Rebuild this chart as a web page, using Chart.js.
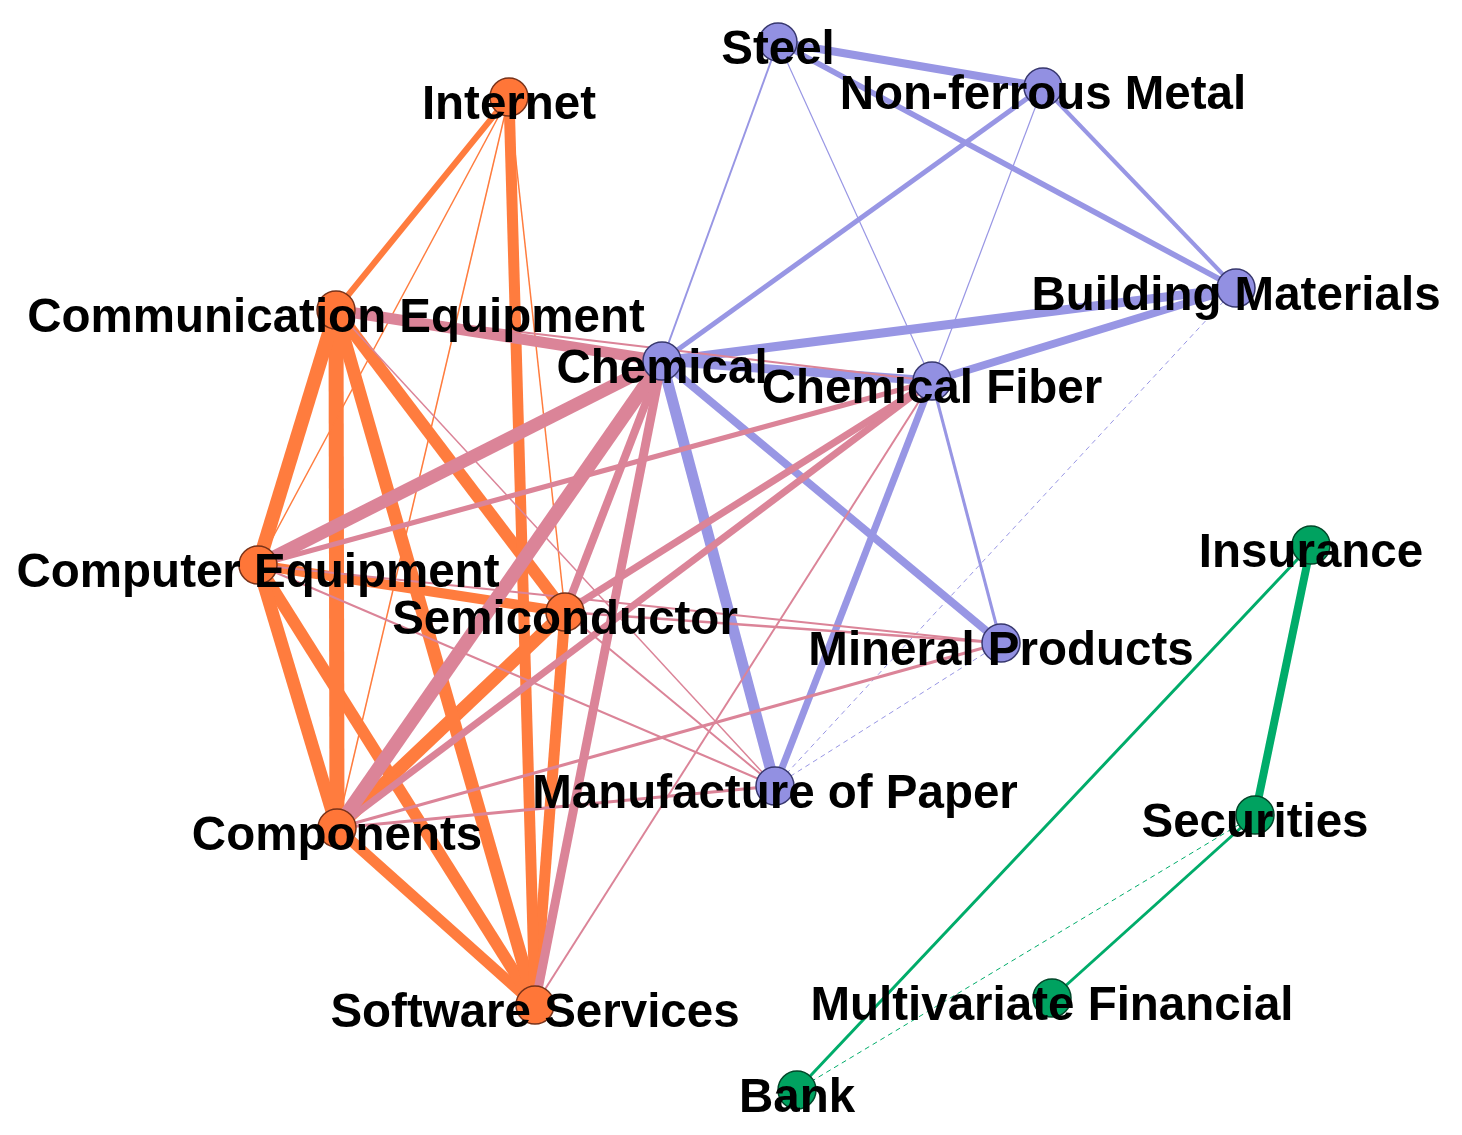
<!DOCTYPE html>
<html>
<head>
<meta charset="utf-8">
<script src="https://cdn.jsdelivr.net/npm/chart.js@4.4.1/dist/chart.umd.min.js"></script>
<style>
  html, body { margin: 0; padding: 0; background: #fff; }
  #net { display: block; }
</style>
</head>
<body>
<canvas id="net" width="1462" height="1135"></canvas>
<script>
// nodes (layout coordinates)
const nodeNames = ['Steel', 'Non-ferrous Metal', 'Internet', 'Building Materials', 'Communication Equipment',
    'Chemical', 'Chemical Fiber', 'Insurance', 'Computer Equipment', 'Semiconductor', 'Mineral Products',
    'Manufacture of Paper', 'Securities', 'Components', 'Multivariate Financial', 'Software Services', 'Bank'];
const nodeX = [778, 1043, 509, 1236, 336, 662, 932, 1311, 258, 565, 1001, 775, 1255, 337, 1052, 535, 797];
const nodeY = [42, 87, 97, 288, 310, 361, 381, 545, 565, 612, 643, 786, 815, 828, 998, 1005, 1090];
const nodeGroup = ['mat', 'mat', 'tech', 'mat', 'tech', 'mat', 'mat', 'fin', 'tech', 'tech', 'mat',
    'mat', 'fin', 'tech', 'fin', 'tech', 'fin'];

// edges and their strength
const edgeFrom = [
    'Internet', 'Internet', 'Internet', 'Internet', 'Internet',
    'Communication Equipment', 'Communication Equipment', 'Communication Equipment', 'Communication Equipment',
    'Computer Equipment', 'Computer Equipment', 'Computer Equipment',
    'Semiconductor', 'Semiconductor', 'Components',
    'Communication Equipment', 'Computer Equipment', 'Components', 'Semiconductor', 'Software Services',
    'Computer Equipment', 'Semiconductor', 'Components', 'Software Services', 'Communication Equipment',
    'Communication Equipment', 'Computer Equipment', 'Semiconductor', 'Components',
    'Computer Equipment', 'Semiconductor', 'Components',
    'Steel', 'Steel', 'Steel', 'Steel', 'Non-ferrous Metal', 'Non-ferrous Metal', 'Non-ferrous Metal',
    'Chemical', 'Chemical', 'Chemical', 'Chemical', 'Building Materials', 'Building Materials',
    'Chemical Fiber', 'Chemical Fiber', 'Manufacture of Paper',
    'Insurance', 'Insurance', 'Securities', 'Securities'
];
const edgeTo = [
    'Communication Equipment', 'Software Services', 'Computer Equipment', 'Components', 'Semiconductor',
    'Computer Equipment', 'Components', 'Semiconductor', 'Software Services',
    'Semiconductor', 'Components', 'Software Services',
    'Components', 'Software Services', 'Software Services',
    'Chemical', 'Chemical', 'Chemical', 'Chemical', 'Chemical',
    'Chemical Fiber', 'Chemical Fiber', 'Chemical Fiber', 'Chemical Fiber', 'Chemical Fiber',
    'Manufacture of Paper', 'Manufacture of Paper', 'Manufacture of Paper', 'Manufacture of Paper',
    'Mineral Products', 'Mineral Products', 'Mineral Products',
    'Non-ferrous Metal', 'Building Materials', 'Chemical', 'Chemical Fiber', 'Chemical', 'Building Materials', 'Chemical Fiber',
    'Building Materials', 'Chemical Fiber', 'Manufacture of Paper', 'Mineral Products', 'Chemical Fiber', 'Manufacture of Paper',
    'Manufacture of Paper', 'Mineral Products', 'Mineral Products',
    'Securities', 'Bank', 'Multivariate Financial', 'Bank'
];
const edgeWeight = [
    6, 11, 1.5, 1.5, 1.5,
    14, 15, 12, 13,
    10, 13, 12,
    13, 11, 11,
    11, 13, 14, 8, 9,
    5, 7, 7, 2, 2,
    1.5, 2, 2, 3,
    2, 2.5, 3,
    8, 5.5, 2, 1.2, 5, 4, 1.2,
    9, 9, 11, 8, 8, 1,
    7, 3, 1,
    8, 3, 3, 1
];

const groupEdge = { tech: 'rgb(255,124,62)', mat: 'rgb(152,150,228)', fin: 'rgb(0,172,106)', cross: 'rgb(219,132,152)' };
const groupFill = { tech: 'rgb(255,118,56)', mat: 'rgb(146,144,226)', fin: 'rgb(0,162,96)' };
const groupBorder = { tech: 'rgb(120,50,25)', mat: 'rgb(55,55,110)', fin: 'rgb(0,70,40)' };

const idx = n => nodeNames.indexOf(n);

const edgeSets = edgeFrom.map((f, i) => {
    const a = idx(f), b = idx(edgeTo[i]);
    const ga = nodeGroup[a], gb = nodeGroup[b];
    const w = edgeWeight[i];
    const same = ga === gb;
    return {
        type: 'scatter',
        showLine: true,
        data: [{ x: nodeX[a], y: nodeY[a] }, { x: nodeX[b], y: nodeY[b] }],
        borderColor: same ? groupEdge[ga] : groupEdge.cross,
        borderWidth: w,
        borderDash: w <= 1 ? [5, 4] : [],
        pointRadius: 0,
        pointHoverRadius: 0,
        // cross-group links sit above the in-group ones
        order: same ? 2 : 1
    };
});

const nodeSet = {
    type: 'scatter',
    data: nodeNames.map((n, i) => ({ x: nodeX[i], y: nodeY[i] })),
    pointRadius: 19,
    pointHoverRadius: 19,
    backgroundColor: nodeGroup.map(g => groupFill[g]),
    borderColor: nodeGroup.map(g => groupBorder[g]),
    borderWidth: 1.5,
    order: 0
};

const nodeLabels = {
    id: 'nodeLabels',
    afterDatasetsDraw(chart) {
        const meta = chart.getDatasetMeta(0);
        const c = chart.ctx;
        c.save();
        c.font = "bold 47.5px 'Liberation Sans', Arial, sans-serif";
        c.fillStyle = '#000';
        c.textAlign = 'center';
        c.textBaseline = 'middle';
        meta.data.forEach((pt, i) => {
            c.fillText(nodeNames[i], pt.x, pt.y + 9);
        });
        c.restore();
    }
};

const ctx = document.getElementById('net').getContext('2d');

const chart = new Chart(ctx, {
    type: 'scatter',
    data: { datasets: [nodeSet, ...edgeSets] },
    options: {
        responsive: false,
        devicePixelRatio: 1,
        animation: false,
        clip: false,
        layout: { padding: 0, autoPadding: false },
        scales: {
            x: { type: 'linear', min: 0, max: 1462, display: false },
            y: { type: 'linear', min: 0, max: 1135, reverse: true, display: false }
        },
        plugins: {
            legend: { display: false },
            tooltip: { enabled: false }
        },
        events: []
    },
    plugins: [nodeLabels]
});
</script>
</body>
</html>
